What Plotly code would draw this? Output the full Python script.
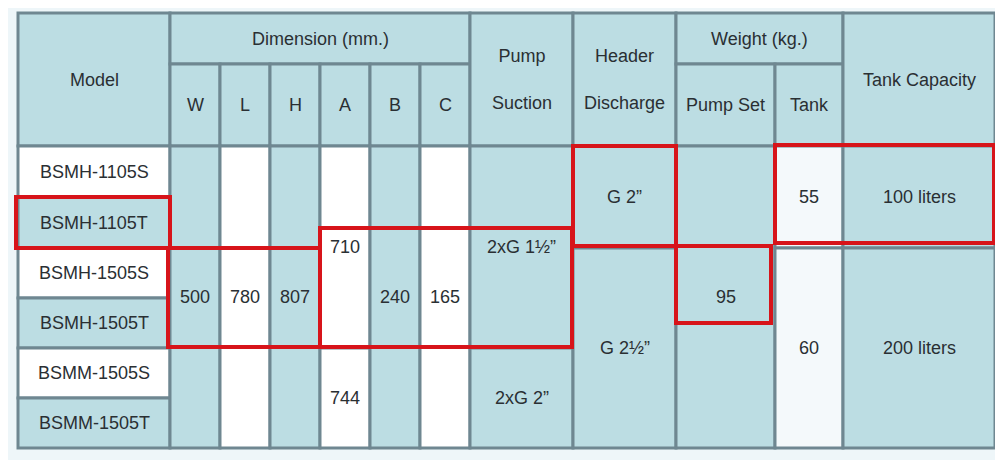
import plotly.graph_objects as go

# ------------------ table content ------------------
col_edges = [18, 170, 220, 270, 320, 370, 420, 470, 573, 676, 775, 843, 995]
row_edges = [13, 64, 146, 197, 248, 298, 348, 398, 448]

BLUE = "#bcdde3"
WHITE = "#ffffff"
PALE = "#f4f9fb"

# header cells: (col0, col1, row0, row1, text)
header_cells = [
    (0, 1, 0, 2, "Model"),
    (1, 7, 0, 1, "Dimension (mm.)"),
    (1, 2, 1, 2, "W"), (2, 3, 1, 2, "L"), (3, 4, 1, 2, "H"),
    (4, 5, 1, 2, "A"), (5, 6, 1, 2, "B"), (6, 7, 1, 2, "C"),
    (7, 8, 0, 2, "Pump<br><br>Suction"),
    (8, 9, 0, 2, "Header<br><br>Discharge"),
    (9, 11, 0, 1, "Weight (kg.)"),
    (9, 10, 1, 2, "Pump Set"), (10, 11, 1, 2, "Tank"),
    (11, 12, 0, 2, "Tank Capacity"),
]

models = ["BSMH-1105S", "BSMH-1105T", "BSMH-1505S",
          "BSMH-1505T", "BSMM-1505S", "BSMM-1505T"]

# body cells: (col0, col1, row0, row1, text, fill)
body_cells = [
    (1, 2, 2, 8, "500", BLUE),
    (2, 3, 2, 8, "780", WHITE),
    (3, 4, 2, 8, "807", BLUE),
    (4, 5, 2, 6, "710", WHITE),
    (4, 5, 6, 8, "744", WHITE),
    (5, 6, 2, 8, "240", BLUE),
    (6, 7, 2, 8, "165", WHITE),
    (7, 8, 2, 6, "2xG 1½”", BLUE),
    (7, 8, 6, 8, "2xG 2”", BLUE),
    (8, 9, 2, 4, "G 2”", BLUE),
    (8, 9, 4, 8, "G 2½”", BLUE),
    (9, 10, 2, 8, "95", BLUE),
    (10, 11, 2, 4, "55", PALE),
    (10, 11, 4, 8, "60", PALE),
    (11, 12, 2, 4, "100 liters", BLUE),
    (11, 12, 4, 8, "200 liters", BLUE),
]

# red highlight boxes (x0, x1, y0, y1) in picture pixels
highlights = [
    (16, 170, 197, 248),
    (168, 320, 248, 347),
    (320, 572, 228, 347),
    (573, 676, 146, 246),
    (676, 771, 246, 323),
    (775, 994, 145, 243),
]

fig = go.Figure()
shapes, annos = [], []
font = dict(family="Liberation Sans, Arial", size=18, color="#2a2f33")


def cell(c0, c1, r0, r1, text, fill):
    x0, x1 = col_edges[c0], col_edges[c1]
    y0, y1 = row_edges[r0], row_edges[r1]
    shapes.append(dict(type="rect", x0=x0, x1=x1, y0=y0, y1=y1, fillcolor=fill,
                       line=dict(color="#6f8791", width=3), layer="below"))
    if text:
        annos.append(dict(x=(x0 + x1) / 2, y=(y0 + y1) / 2, text=text,
                          showarrow=False, font=font))


for c0, c1, r0, r1, t in header_cells:
    cell(c0, c1, r0, r1, t, BLUE)
for i, m in enumerate(models):
    cell(0, 1, 2 + i, 3 + i, m, WHITE if i % 2 == 0 else BLUE)
for c0, c1, r0, r1, t, f in body_cells:
    cell(c0, c1, r0, r1, t, f)
for x0, x1, y0, y1 in highlights:
    shapes.append(dict(type="rect", x0=x0, x1=x1, y0=y0, y1=y1,
                       line=dict(color="#d7141a", width=4), layer="above"))

# page body has an 8px margin, so the figure starts at pixel 8
fig.update_layout(
    width=995, height=452, margin=dict(l=0, r=0, t=0, b=0),
    paper_bgcolor="#eef6f9", plot_bgcolor="#eef6f9",
    xaxis=dict(range=[8, 1003], visible=False, fixedrange=True),
    yaxis=dict(range=[460, 8], visible=False, fixedrange=True),
    shapes=shapes, annotations=annos, showlegend=False,
)
fig.write_html("out.html")
